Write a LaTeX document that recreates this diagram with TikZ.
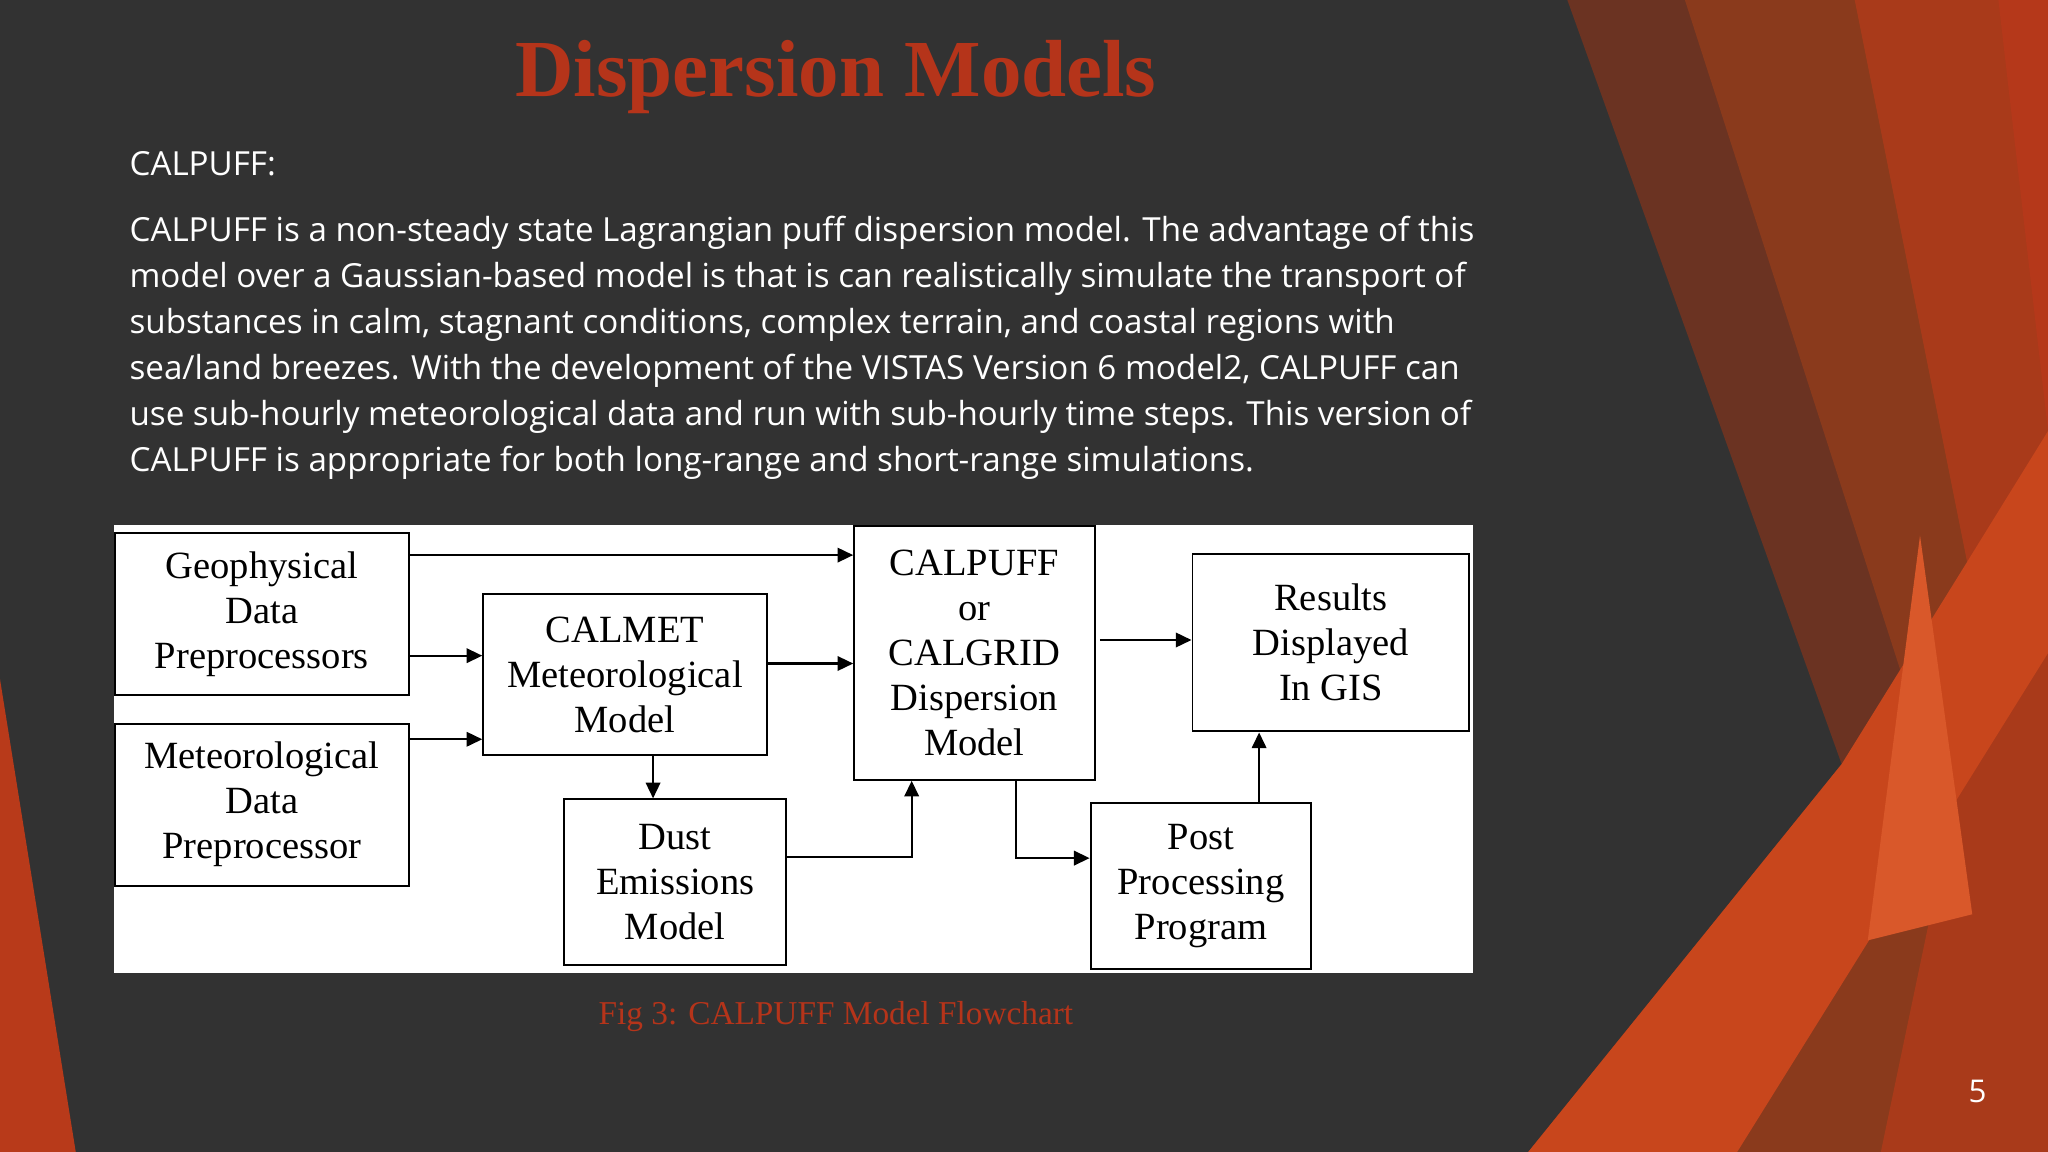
\documentclass[tikz,border=0pt]{standalone}
\usepackage{fontspec}
\setmainfont{Liberation Serif}
\newfontfamily\bodyf{Open Sans}
\usetikzlibrary{arrows.meta}
\definecolor{bg}{HTML}{323232}
\definecolor{ttl}{HTML}{B5341A}
\definecolor{cA}{HTML}{6B3322}
\definecolor{cB}{HTML}{8A3A1C}
\definecolor{cC}{HTML}{A93A1A}
\definecolor{cD}{HTML}{C8461C}
\definecolor{cE}{HTML}{D9582A}
\definecolor{cF}{HTML}{B5381A}
\definecolor{cG}{HTML}{B83A1A}
\tikzset{box/.style={draw=black,line width=1.5pt,fill=white,align=center,inner sep=0pt,font=\fontsize{29.5}{34.5}\selectfont},
 arr/.style={line width=1.8pt,-{Triangle[length=12pt,width=11pt]}}}
\begin{document}
\begin{tikzpicture}[x=1pt,y=-1pt]
\fill[bg] (0,0) rectangle (1568,882);
\useasboundingbox (0,0) rectangle (1568,882);
% right decoration
\fill[cA] (1200,0) -- (1568,0) -- (1568,882) -- (1170,882) -- (1410,585) -- cycle;
\fill[cB] (1290,0) -- (1568,0) -- (1568,882) -- (1330,882) -- (1470,560) -- cycle;
\fill[cC] (1420,0) -- (1568,0) -- (1568,882) -- (1440,882) -- (1520,500) -- cycle;
\fill[cD] (1170,882) -- (1410,585) -- (1500,440) -- (1568,330) -- (1568,500) -- (1330,882) -- cycle;
\fill[cE] (1470,410) -- (1510,700) -- (1430,720) -- cycle;
\fill[cF] (1530,0) -- (1568,0) -- (1568,330) -- cycle;
% left decoration
\fill[cG] (0,520) -- (58,882) -- (0,882) -- cycle;
% title and text
\node[text=ttl,font=\bfseries\fontsize{62}{66}\selectfont] (title) at (640,59) {Dispersion Models};
\node[anchor=west,inner sep=0pt,text=white,font=\bodyf\fontsize{25.4}{35}\selectfont] (lab) at (99,125) {CALPUFF:};
\node[anchor=north west,text=white,align=left,inner sep=0pt,font=\bodyf\fontsize{25.4}{35.3}\selectfont] (para) at (99,165) {CALPUFF is a non-steady state Lagrangian puff dispersion model. The advantage of this\\model over a Gaussian-based model is that is can realistically simulate the transport of\\substances in calm, stagnant conditions, complex terrain, and coastal regions with\\sea/land breezes. With the development of the VISTAS Version 6 model2, CALPUFF can\\use sub-hourly meteorological data and run with sub-hourly time steps. This version of\\CALPUFF is appropriate for both long-range and short-range simulations.};
% diagram
\fill[white] (87,402) rectangle (1128,745);
\node[box,minimum width=225pt,minimum height=124pt] (geo) at (200.5,470) {Geophysical\\Data\\Preprocessors};
\node[box,minimum width=225pt,minimum height=124pt] (met) at (200.5,616) {Meteorological\\Data\\Preprocessor};
\node[box,minimum width=217pt,minimum height=123pt] (calmet) at (478.5,516.5) {CALMET\\Meteorological\\Model};
\node[box,minimum width=170pt,minimum height=127pt] (dust) at (517,675.5) {Dust\\Emissions\\Model};
\node[box,minimum width=184pt,minimum height=194pt] (cp) at (746,500) {CALPUFF\\or\\CALGRID\\Dispersion\\Model};
\node[box,minimum width=212pt,minimum height=136pt] (res) at (1019,492) {Results\\Displayed\\In GIS};
\node[box,minimum width=169pt,minimum height=127pt] (post) at (919.5,678.5) {Post\\Processing\\Program};
\draw[arr] (geo.east |- 0,425) -- (cp.west |- 0,425);
\draw[arr] (geo.east |- 0,502) -- (calmet.west |- 0,502);
\draw[arr] (met.east |- 0,566) -- (calmet.west |- 0,566);
\draw[arr] (calmet.east |- 0,508) -- (cp.west |- 0,508);
\draw[arr] (calmet.south -| 500,0) -- (dust.north -| 500,0);
\draw[arr] (dust.east |- 0,656) -| (cp.south -| 698,0);
\draw[arr] (cp.south -| 778,0) |- (post.west |- 0,657);
\draw[arr] (842,490) -- (res.west |- 0,490);
\draw[arr] (post.north -| 964,0) -- (res.south -| 964,0);
\node[text=ttl,font=\fontsize{25.5}{28}\selectfont] (cap) at (640,778) {Fig 3: CALPUFF Model Flowchart};
\node[text=white,font=\bodyf\fontsize{24}{26}\selectfont] (pg) at (1514,836) {5};
\end{tikzpicture}
\end{document}
